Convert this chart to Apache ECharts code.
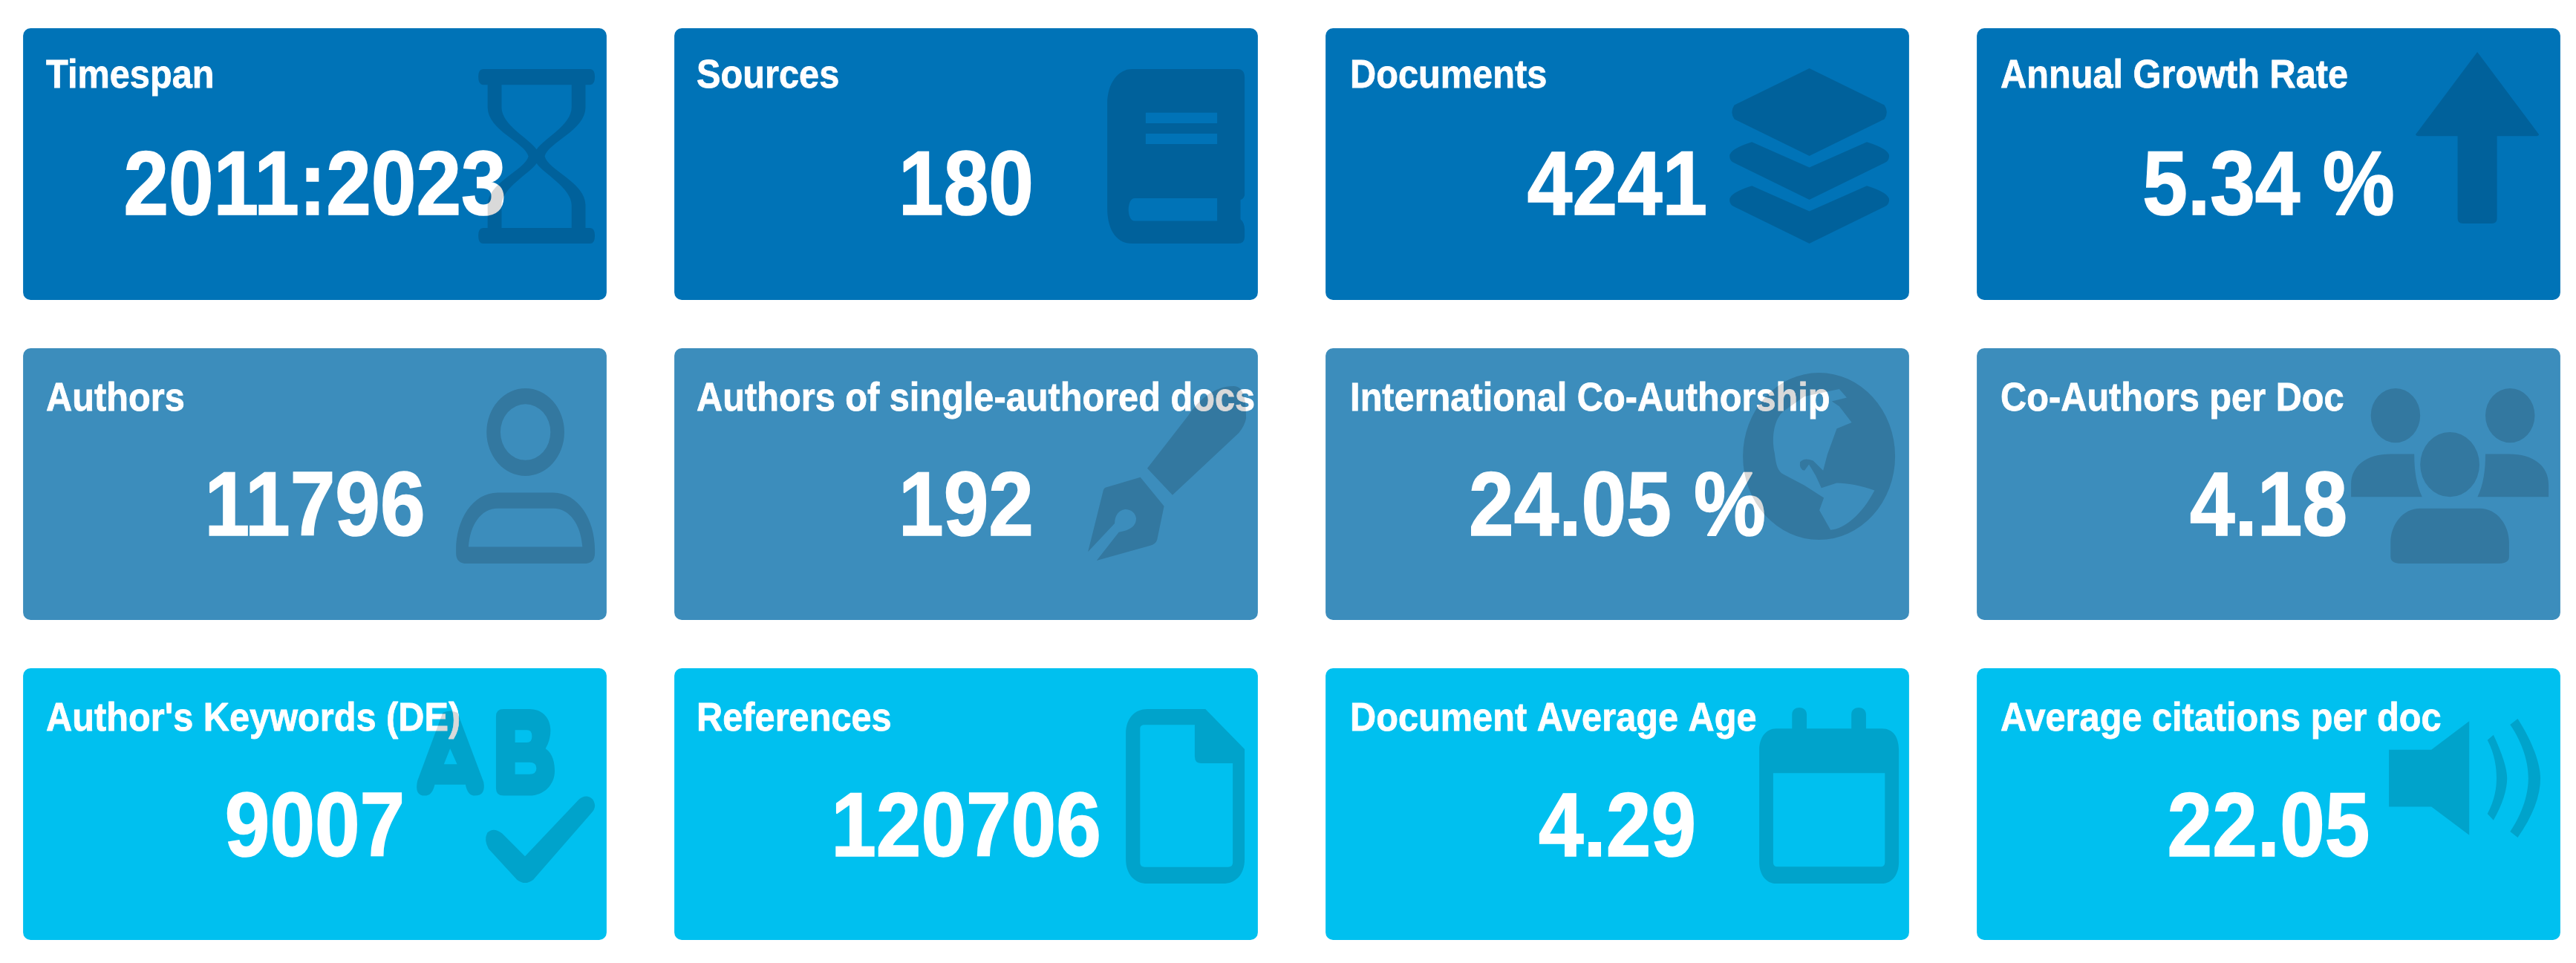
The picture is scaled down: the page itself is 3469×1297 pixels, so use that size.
<!DOCTYPE html>
<html>
<head>
<meta charset="utf-8">
<title>Main information</title>
<script src="https://cdn.jsdelivr.net/npm/echarts@6/dist/echarts.min.js"></script>
<style>
  html, body { margin: 0; padding: 0; background: #fff; }
  #chart { width: 3469px; height: 1297px; }
</style>
</head>
<body>
<div id="chart"></div>
<script>
// card contents, reading order
var cardTitles = [
  'Timespan', 'Sources', 'Documents', 'Annual Growth Rate',
  'Authors', 'Authors of single-authored docs', 'International Co-Authorship', 'Co-Authors per Doc',
  "Author's Keywords (DE)", 'References', 'Document Average Age', 'Average citations per doc'
];
var cardValues = [
  '2011:2023', '180', '4241', '5.34 %',
  '11796', '192', '24.05 %', '4.18',
  '9007', '120706', '4.29', '22.05'
];
var cardColumns = [0, 1, 2, 3, 0, 1, 2, 3, 0, 1, 2, 3];
var cardRows = [0, 0, 0, 0, 1, 1, 1, 1, 2, 2, 2, 2];
var columnCategories = ['0', '1', '2', '3'];
var rowCategories = ['0', '1', '2'];

// looks
var rowColors = ['#0073b7', '#3c8dbc', '#00c0ef'];
var iconColor = 'rgba(0, 0, 0, 0.15)';
var fontName = '"Liberation Sans", Arial, sans-serif';
var stretchY = 1.12; // the picture is a bit taller than it is wide
var titleLeft = [31, 30, 33, 32];
var titleMiddle = [65, 69, 69];
var valueMiddle = [217, 218, 219];

// icon outlines, each fitted in a box [x, y, w, h] inside its card
var iconBoxes = [
  [613, 55, 157, 235], [583, 55, 185, 235], [544, 54, 215, 236], [591, 32, 166, 231],
  [583, 54, 187, 236], [557, 51, 213, 235], [562, 33, 205, 225], [504, 54, 266, 236],
  [530, 55, 240, 234], [608, 55, 160, 235], [584, 53, 188, 237], [555, 68, 204, 160]
];
var iconPaths = [
  // hourglass
  'M4,0 L96,0 Q100,0 100,4.5 Q100,9 96,9 L4,9 Q0,9 0,4.5 Q0,0 4,0 Z ' +
  'M4,91 L96,91 Q100,91 100,95.5 Q100,100 96,100 L4,100 Q0,100 0,95.5 Q0,91 4,91 Z ' +
  'M8,9 L92,9 L92,22 C92,35 60,42 57,50 C60,58 92,65 92,78 L92,91 L8,91 L8,78 C8,65 40,58 43,50 C40,42 8,35 8,22 Z ' +
  'M20,9 L20,22 C20,32 44,40 50,46 C56,40 80,32 80,22 L80,9 Z ' +
  'M20,91 L80,91 L80,78 C80,68 56,60 50,54 C44,60 20,68 20,78 Z',
  // book
  'M18,0 L95,0 Q100,0 100,5 L100,72 Q100,74 97,75 L97,86 Q100,88 100,92 L100,96 Q100,100 95,100 L18,100 C5,100 0,90 0,80 L0,20 C0,8 8,0 18,0 Z ' +
  'M28,25 L28,31 L80,31 L80,25 Z M28,37 L28,43 L80,43 L80,37 Z M20,74 C14,74 14,87 20,87 L80,87 L80,74 Z',
  // layers
  'M50,0 L97,21 Q100,25 97,29 L50,50 L3,29 Q0,25 3,21 Z ' +
  'M14,42 L50,56.5 L86,42 Q100,46 100,50 Q100,53 97,54 L50,75 L3,54 Q0,53 0,50 Q0,46 14,42 Z ' +
  'M14,67 L50,81.5 L86,67 Q100,71 100,75 Q100,78 97,79 L50,100 L3,79 Q0,78 0,75 Q0,71 14,67 Z',
  // arrow up
  'M50,0 L100,48 Q100,49 97,49 L66,49 L66,97 Q66,100 62,100 L38,100 Q34,100 34,97 L34,49 L3,49 Q0,49 0,48 Z',
  // user
  'M22,25 A28,25 0 1 1 78,25 A28,25 0 1 1 22,25 Z M32,25 A18,16 0 1 0 68,25 A18,16 0 1 0 32,25 Z ' +
  'M30,59.5 L70,59.5 C88,59.5 100,75 100,92 L100,94 Q100,100 92,100 L8,100 Q0,100 0,94 L0,92 C0,75 12,59.5 30,59.5 Z ' +
  'M30,68.5 C18,68.5 10,78 9,90.5 L91,90.5 C90,78 82,68.5 70,68.5 Z',
  // fountain pen
  'M290,362 L455,150 C500,85 560,30 640,30 C675,30 690,70 690,160 Q685,190 660,220 L392,470 Z ' +
  'M120,440 L262,398 L358,515 L330,650 Q325,668 300,675 L85,735 L175,620 Q245,610 245,565 Q240,530 200,528 Q160,535 158,585 L50,700 L110,460 Q112,445 120,440 Z',
  // globe
  'M52,372 A306,337 0 1 1 665,372 A306,337 0 1 1 52,372 Z ' +
  'M215,190 C180,220 165,290 180,360 C185,410 195,435 215,445 L300,490 L378,540 L360,590 L405,670 C460,665 530,610 582,510 ' +
  'C530,490 470,480 430,480 L368,500 L345,450 L318,405 L300,430 Q278,425 282,395 Q300,375 335,390 L375,430 L392,365 L430,260 ' +
  'L490,235 L440,170 L410,150 L470,135 L440,100 L300,130 Z',
  // users
  'M10,15.5 A12.5,15.5 0 1 1 35,15.5 A12.5,15.5 0 1 1 10,15.5 Z ' +
  'M68,15.5 A12.5,15.5 0 1 1 93,15.5 A12.5,15.5 0 1 1 68,15.5 Z ' +
  'M35,43.5 A15,18.5 0 1 1 65,43.5 A15,18.5 0 1 1 35,43.5 Z ' +
  'M0,62 L0,55 C0,44 8,37.5 20,37.5 L32,37.5 C32,47 33,55 36,62 Z ' +
  'M100,62 L100,55 C100,44 92,37.5 80,37.5 L68,37.5 C68,47 67,55 64,62 Z ' +
  'M35,68.5 L65,68.5 C74,68.5 80,78 80,88 L80,96 Q80,100 75,100 L25,100 Q20,100 20,96 L20,88 C20,78 26,68.5 35,68.5 Z',
  // spell check
  'M140,60 Q170,45 200,60 L305,340 Q315,395 270,395 Q240,395 232,350 L108,350 Q98,395 68,395 Q25,395 38,335 Z M170,205 L145,268 L198,268 Z ' +
  'M385,45 L490,45 C550,45 575,90 575,130 C575,170 560,195 555,205 C585,225 592,265 592,295 C592,350 550,395 490,395 L385,395 Q355,395 355,365 L355,75 Q355,45 385,45 Z ' +
  'M432,130 L432,180 L480,180 Q500,180 500,155 Q500,130 480,130 Z M432,260 L432,308 L490,308 Q518,308 518,284 Q518,260 490,260 Z ' +
  'M320,545 Q345,520 380,548 L472,640 L690,410 Q720,385 745,410 Q765,440 740,465 L505,735 Q472,760 440,735 L325,610 Q305,575 320,545 Z',
  // file
  'M18,0 L67,0 L100,23 L100,86 C100,95 92,100 82,100 L18,100 C8,100 0,95 0,86 L0,14 C0,5 8,0 18,0 Z ' +
  'M12,11 L12,88 Q12,90.5 16,90.5 L86,90.5 Q90,90.5 90,88 L90,31 L63,31 Q58,31 58,27 L58,9 L16,9 Q12,9 12,11 Z',
  // calendar
  'M12,13 L88,13 C96,13 100,18 100,25 L100,88 C100,95 95,100 88,100 L12,100 C5,100 0,95 0,88 L0,25 C0,18 5,13 12,13 Z ' +
  'M23.5,13 L23.5,5 C23.5,0 34,0 34,5 L34,13 Z M66,13 L66,5 C66,0 76.5,0 76.5,5 L76.5,13 Z ' +
  'M10,38 L10,88 Q10,90.5 13,90.5 L87,90.5 Q90,90.5 90,88 L90,38 Z',
  // speaker
  'M0,26 L28,26 L53,2 L53,98 L28,74 L0,74 Z ' +
  'M65,18 L69,13.5 C75,30 78,42 78,50 C78,60 75,72 69,85.5 L65,80 C70,68 71,58 71,50 C71,42 70,30 65,18 Z ' +
  'M80,5 L85,0 C95,20 100,38 100,50 C100,65 95,82 85,100 L80,95 C89,78 92,62 92,50 C92,38 89,22 80,5 Z'
];

var chart = echarts.init(document.getElementById('chart'));

function renderCard(params, api) {
  var i = params.dataIndex,
    col = api.value(0),
    row = api.value(1),
    center = api.coord([col, row]),
    band = api.size([1, 1]),
    w = band[0] * 0.896,
    h = band[1] * 0.849,
    box = iconBoxes[i];

  return {
    type: 'group',
    x: center[0] - w / 2,
    y: center[1] - h / 2,
    children: [{
      type: 'rect',
      shape: { x: 0, y: 0, width: w, height: h, r: 10 },
      style: { fill: rowColors[row] }
    }, {
      type: 'text',
      x: titleLeft[col],
      y: titleMiddle[row],
      scaleY: stretchY,
      style: {
        text: cardTitles[i],
        fill: '#fff',
        stroke: '#fff',
        lineWidth: 0.7,
        font: 'bold 48.7px ' + fontName,
        textAlign: 'left',
        textVerticalAlign: 'middle'
      }
    }, {
      type: 'text',
      x: w / 2,
      y: valueMiddle[row],
      scaleY: stretchY,
      style: {
        text: cardValues[i],
        fill: '#fff',
        stroke: '#fff',
        lineWidth: 1.5,
        font: 'bold 109px ' + fontName,
        textAlign: 'center',
        textVerticalAlign: 'middle'
      }
    }, {
      // the icon sits over the text, it greys the letters it crosses
      type: 'path',
      shape: { pathData: iconPaths[i], layout: 'cover', x: box[0], y: box[1], width: box[2], height: box[3] },
      style: { fill: iconColor }
    }]
  };
}

var option = {
  animation: false,
  backgroundColor: '#fff',
  grid: { left: -14.5, top: 5.5, width: 3508, height: 1293, outerBoundsMode: 'none' },
  xAxis: { type: 'category', data: columnCategories, show: false },
  yAxis: { type: 'category', data: rowCategories, inverse: true, show: false },
  series: [{
    type: 'custom',
    clip: false,
    silent: true,
    renderItem: renderCard,
    encode: { x: 0, y: 1 },
    data: cardValues.map(function(v, i) {
      return [cardColumns[i], cardRows[i]];
    })
  }]
};
chart.setOption(option);
</script>
</body>
</html>
